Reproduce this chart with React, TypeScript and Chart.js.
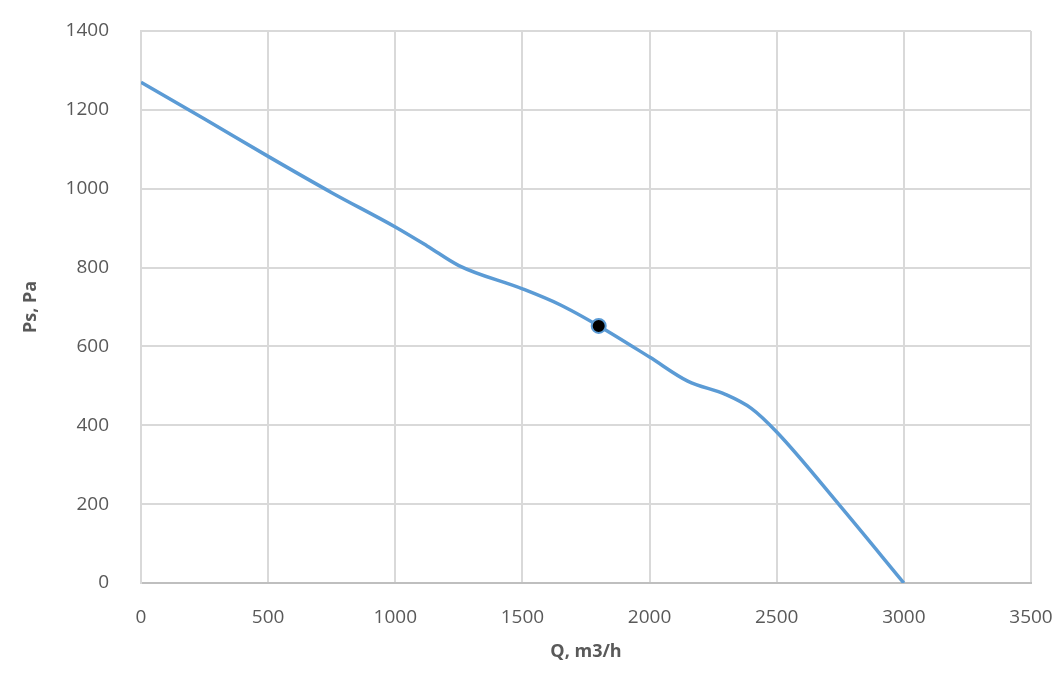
import React, { useEffect, useRef } from "react";
import { Chart, registerables } from "chart.js";

Chart.register(...registerables);

const flowQ = [0, 250, 500, 750, 1000, 1125, 1250, 1500, 1650, 1800, 2000, 2150, 2300, 2400, 2500, 2750, 3000];
const pressurePs = [1270, 1177, 1082, 990, 903, 855, 805, 746, 705, 652, 573, 512, 478, 443, 383, 195, 0];
const operatingQ = [1800];
const operatingPs = [652];
const xTicks = [0, 500, 1000, 1500, 2000, 2500, 3000, 3500];
const yTicks = [0, 200, 400, 600, 800, 1000, 1200, 1400];

const FONT = "'Open Sans', 'Liberation Sans', sans-serif";
const TEXT = "#595959";

export default function App() {
  const ref = useRef<HTMLCanvasElement | null>(null);
  useEffect(() => {
    if (!ref.current) return;
    const chart = new Chart(ref.current, {
      type: "line",
      data: {
        datasets: [
          {
            label: "Operating point",
            data: operatingQ.map((q, i) => ({ x: q, y: operatingPs[i] })),
            showLine: false,
            pointRadius: 7,
            pointBackgroundColor: "#000000",
            pointBorderColor: "#5B9BD5",
            pointBorderWidth: 2,
            order: 0,
          },
          {
            label: "Ps",
            data: flowQ.map((q, i) => ({ x: q, y: pressurePs[i] })),
            borderColor: "#5B9BD5",
            borderWidth: 3.5,
            pointRadius: 0,
            cubicInterpolationMode: "monotone",
            fill: false,
            order: 1,
          },
        ],
      },
      options: {
        animation: false,
        responsive: true,
        maintainAspectRatio: false,
        layout: { padding: { top: 31, right: 33, left: 0, bottom: 0 } },
        plugins: { legend: { display: false }, tooltip: { enabled: false } },
        scales: {
          x: {
            type: "linear",
            min: 0,
            max: 3500,
            afterBuildTicks: (s: any) => {
              s.ticks = xTicks.map((v) => ({ value: v }));
            },
            afterFit: (s: any) => {
              s.height = 93;
              s.paddingLeft = 0;
              s.paddingRight = 0;
            },
            ticks: {
              color: TEXT,
              font: { family: FONT, size: 19 },
              padding: 23,
              maxRotation: 0,
              callback: (v: any) => String(v),
            },
            grid: { color: "#d9d9d9", lineWidth: 2, drawTicks: false },
            border: { color: "#bfbfbf", width: 2 },
            title: {
              display: true,
              text: "Q, m3/h",
              color: TEXT,
              font: { family: FONT, size: 18, weight: "bold" },
              padding: { top: 0, bottom: 13 },
            },
          },
          y: {
            type: "linear",
            min: 0,
            max: 1400,
            afterBuildTicks: (s: any) => {
              s.ticks = yTicks.map((v) => ({ value: v }));
            },
            afterFit: (s: any) => {
              s.width = 141;
              s.paddingTop = 0;
              s.paddingBottom = 0;
            },
            ticks: {
              color: TEXT,
              font: { family: FONT, size: 19 },
              padding: 32,
              callback: (v: any) => String(v),
            },
            grid: { color: "#d9d9d9", lineWidth: 2, drawTicks: false },
            border: { color: "#d9d9d9", width: 2 },
            title: {
              display: true,
              text: "Ps, Pa",
              color: TEXT,
              font: { family: FONT, size: 18, weight: "bold" },
              padding: { bottom: 0, top: 20 },
            },
          },
        },
      },
    });
    return () => chart.destroy();
  }, []);
  return (
    <div style={{ position: "absolute", left: 0, top: 0, width: 1064, height: 676, background: "#fff" }}>
      <canvas ref={ref} />
    </div>
  );
}
